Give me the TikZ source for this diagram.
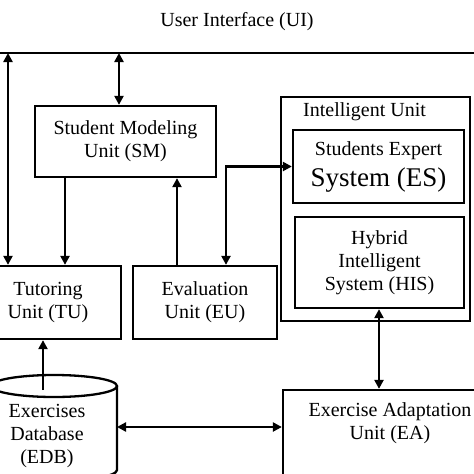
\documentclass[tikz,border=0pt]{standalone}
\usepackage{fontspec}
\setmainfont{Liberation Serif}
\usetikzlibrary{arrows.meta}
\begin{document}
\begin{tikzpicture}[x=1pt,y=-1pt,
  box/.style={draw, line width=2.3pt, rectangle, inner sep=0pt, align=center, font=\fontsize{20}{23}\selectfont},
  txt/.style={align=center, inner sep=0pt, font=\fontsize{20}{23}\selectfont},
  line/.style={line width=2.3pt},
  conn/.style={line width=2.3pt, -{Triangle[length=9pt,width=9pt]}},
  bi/.style={line width=2.3pt, {Triangle[length=9pt,width=9pt]}-{Triangle[length=9pt,width=9pt]}},
]
\useasboundingbox (0,0) rectangle (474,474);
% title and UI line
\node[txt] (ui) at (237,22) {User Interface (UI)};
\coordinate (uiA) at (0,53);
\coordinate (uiB) at (474,53);
\draw[line] (uiA) -- (uiB);
% boxes
\node[box, minimum width=181pt, minimum height=71pt] (sm) at (125.5,141.5) {Student Modeling\\Unit (SM)};
\node[box, minimum width=146pt, minimum height=73pt] (tu) at (48,302.5) {Tutoring\\Unit (TU)};
\node[box, minimum width=144pt, minimum height=73pt] (eu) at (205,302.5) {Evaluation\\Unit (EU)};
\node[box, minimum width=189pt, minimum height=224pt] (iu) at (375.5,209) {};
\node[txt, anchor=west] (iut) at (303,112) {Intelligent Unit};
\node[box, minimum width=171pt, minimum height=73pt] (es) at (378.5,166.5) {};
\node[txt] (est1) at (378.5,151) {Students Expert};
\node[txt, font=\fontsize{27}{30}\selectfont] (est2) at (378.5,180) {System (ES)};
\node[box, minimum width=169pt, minimum height=91pt] (his) at (379.5,262.5) {Hybrid\\Intelligent\\System (HIS)};
\node[box, minimum width=214pt, minimum height=110pt] (ea) at (390,445) {};
\node[txt] (eat) at (390,423.5) {Exercise Adaptation\\Unit (EA)};
% database cylinder
\draw[line] (54,386) ellipse [x radius=63pt, y radius=11pt];
\draw[line] (-9,386) -- (-9,470) arc[start angle=180, end angle=360, x radius=63pt, y radius=11pt] -- (117,386);
\node[txt, text depth=0pt] (edb) at (47,433.5) {Exercises\\Database\\(EDB)};
% coordinates for connectors
\coordinate (uiL) at (8,53);
\coordinate (uiS) at (119,53);
\coordinate (x65) at (65,0);
\coordinate (x177) at (177,0);
\coordinate (x226) at (226,0);
\coordinate (x379) at (379,0);
\coordinate (edbtop) at (43,390);
\coordinate (edbR) at (117,427);
% connectors
\draw[bi] (uiL) -- (uiL |- tu.north);
\draw[bi] (uiS) -- (uiS |- sm.north);
\draw[conn] (sm.south -| x65) -- (tu.north -| x65);
\draw[conn] (eu.north -| x177) -- (sm.south -| x177);
\draw[bi] (eu.north -| x226) |- (es.west);
\draw[bi] (his.south -| x379) -- (ea.north -| x379);
\draw[conn] (edbtop) -- (tu.south -| edbtop);
\draw[bi] (edbR) -- (edbR -| ea.west);
\end{tikzpicture}
\end{document}
